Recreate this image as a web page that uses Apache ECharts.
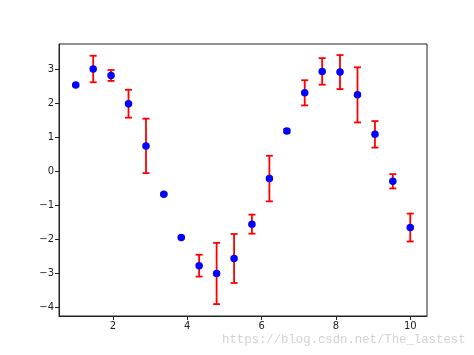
<!DOCTYPE html>
<html>
<head>
<meta charset="utf-8">
<script src="https://cdn.jsdelivr.net/npm/echarts@6/dist/echarts.min.js"></script>
<style>
    html, body { margin: 0; padding: 0; background: #fff; }
    #chart { width: 474px; height: 355px; }
</style>
</head>
<body>
<div id="chart"></div>
<script>
// Data
var xValues = [1.00, 1.47, 1.95, 2.42, 2.89, 3.37, 3.84, 4.32, 4.79, 5.26,
               5.74, 6.21, 6.68, 7.16, 7.63, 8.11, 8.58, 9.05, 9.53, 10.00];
var yValues = [2.53, 3.00, 2.81, 1.98, 0.74, -0.68, -1.95, -2.78, -3.01, -2.57,
               -1.56, -0.22, 1.18, 2.30, 2.93, 2.91, 2.24, 1.08, -0.30, -1.66];
var yErrors = [0.03, 0.39, 0.16, 0.41, 0.80, 0.03, 0.02, 0.32, 0.90, 0.72,
               0.28, 0.67, 0.05, 0.37, 0.39, 0.50, 0.81, 0.39, 0.21, 0.41];
var xTicks = [2, 4, 6, 8, 10];
var yTicks = [-4, -3, -2, -1, 0, 1, 2, 3];

var chartElement = document.getElementById('chart');
var chart = echarts.init(chartElement, null, { renderer: 'canvas' });

var points = xValues.map(function(x, i) { return [x, yValues[i]]; });
var bars = xValues.map(function(x, i) { return [x, yValues[i], yErrors[i]]; });

var tickLabel = function(v) { return String(v).replace('-', '\u2212'); };

// Error bar with caps
var renderErrorBar = function(params, api) {
    var x = api.value(0), y = api.value(1), e = api.value(2);
    var top = api.coord([x, y + e]);
    var bottom = api.coord([x, y - e]);
    var cap = 3.5;
    var style = { stroke: '#ff0000', lineWidth: 1.8 };
    return {
        type: 'group',
        children: [
            { type: 'line', shape: { x1: top[0], y1: top[1], x2: bottom[0], y2: bottom[1] }, style: style },
            { type: 'line', shape: { x1: top[0] - cap, y1: top[1], x2: top[0] + cap, y2: top[1] }, style: style },
            { type: 'line', shape: { x1: bottom[0] - cap, y1: bottom[1], x2: bottom[0] + cap, y2: bottom[1] }, style: style }
        ]
    };
};

chart.setOption({
    animation: false,
    textStyle: { fontFamily: 'DejaVu Sans' },
    grid: {
        left: 59, right: 47, top: 44, bottom: 39,
        show: true,
        borderColor: '#222',
        borderWidth: 1,
        backgroundColor: '#fff'
    },
    xAxis: {
        type: 'value',
        min: 0.55,
        max: 10.45,
        splitLine: { show: false },
        axisLine: { show: true, onZero: false, lineStyle: { color: '#222' } },
        axisTick: { show: true, length: 4, customValues: xTicks, lineStyle: { color: '#222' } },
        axisLabel: { customValues: xTicks, color: '#222', fontSize: 10, margin: 5, formatter: tickLabel }
    },
    yAxis: {
        type: 'value',
        min: -4.26,
        max: 3.735,
        splitLine: { show: false },
        axisLine: { show: true, onZero: false, lineStyle: { color: '#222' } },
        axisTick: { show: true, length: 4, customValues: yTicks, lineStyle: { color: '#222' } },
        axisLabel: { customValues: yTicks, color: '#222', fontSize: 10, margin: 5, formatter: tickLabel }
    },
    series: [
        {
            type: 'custom',
            renderItem: renderErrorBar,
            data: bars,
            encode: { x: 0, y: [1, 2] },
            z: 2
        },
        {
            type: 'scatter',
            data: points,
            symbol: 'circle',
            symbolSize: 7.5,
            itemStyle: { color: '#0000ff', opacity: 1 },
            z: 3
        }
    ],
    graphic: [
        {
            type: 'text',
            left: 222,
            top: 334,
            style: {
                text: 'https://blog.csdn.net/The_lastest',
                font: '12.3px "Liberation Mono"',
                fill: '#d2d2d2'
            }
        }
    ]
});
</script>
</body>
</html>
